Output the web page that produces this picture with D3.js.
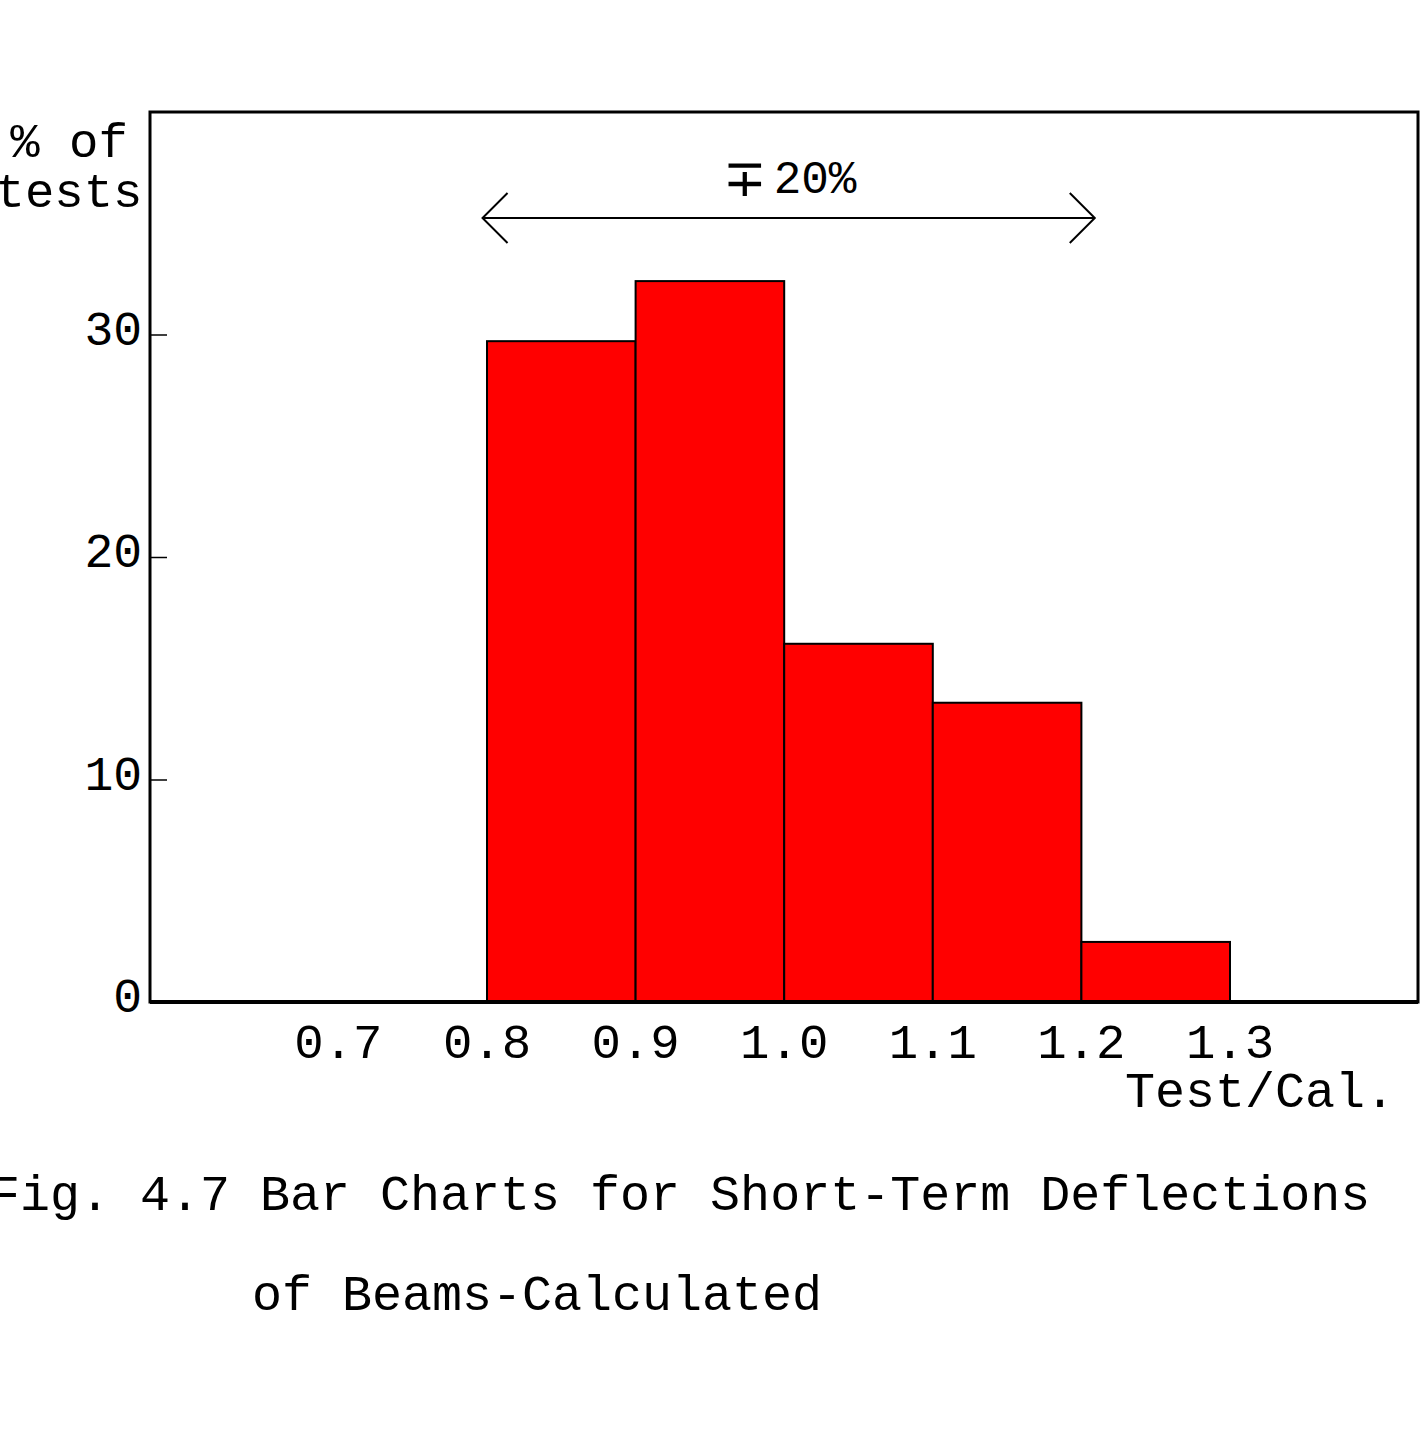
<!DOCTYPE html>
<html lang="en">

<head>
  <meta charset="UTF-8">
  <title>Fig. 4.7 Bar Charts for Short-Term Deflections</title>
  <script src="https://d3js.org/d3.v7.min.js"></script>
  <style>
    body {
      margin: 0;
      background: #fff;
    }

    text {
      font-family: "Liberation Mono", "Courier New", monospace;
      fill: #000;
    }

    .bar {
      fill: rgb(255, 0, 0);
      stroke: #000;
      stroke-width: 2;
    }

    .frame {
      fill: none;
      stroke: #000;
      stroke-width: 3;
    }
  </style>
</head>

<body>
  <svg width="1422" height="1450"></svg>

  <script>
    // bins of Test/Cal. ratio and % of tests in each
    const binStarts = [0.8, 0.9, 1.0, 1.1, 1.2];
    const binWidth = 0.1;
    const percents = [29.7, 32.4, 16.1, 13.45, 2.7];
    const xTicks = [0.7, 0.8, 0.9, 1.0, 1.1, 1.2, 1.3];
    const yTicks = [0, 10, 20, 30];
    const bandRange = [0.797, 1.209];   // the +/-20% arrow
    const bandLabel = '20%';
    const captionLines = ['Fig. 4.7 Bar Charts for Short-Term Deflections', 'of Beams-Calculated'];

    const frame = { left: 150, right: 1418, top: 112, bottom: 1002 };

    const svg = d3.select('svg');

    const x = d3.scaleLinear()
      .domain([0.8, 1.3])
      .range([487, 1230]);

    const y = d3.scaleLinear()
      .domain([0, 40])
      .range([frame.bottom, frame.top]);

    const data = binStarts.map((b, i) => ({ x0: b, x1: b + binWidth, v: percents[i] }));

    //bars
    svg.selectAll('.bar')
      .data(data)
      .enter().append('rect')
      .attr('class', 'bar')
      .attr('x', d => x(d.x0))
      .attr('y', d => y(d.v))
      .attr('width', d => x(d.x1) - x(d.x0))
      .attr('height', d => y(0) - y(d.v));

    //frame
    svg.append('rect')
      .attr('class', 'frame')
      .attr('x', frame.left)
      .attr('y', frame.top)
      .attr('width', frame.right - frame.left)
      .attr('height', frame.bottom - frame.top);
    svg.append('line')
      .attr('x1', frame.left).attr('x2', frame.right)
      .attr('y1', frame.bottom).attr('y2', frame.bottom)
      .attr('stroke', '#000').attr('stroke-width', 4);

    //y axis: short ticks inside the frame, labels outside
    const yAxis = svg.append('g')
      .attr('transform', `translate(${frame.left},0)`)
      .call(d3.axisRight(y).tickValues(yTicks.filter(t => t > 0)).tickSize(17).tickFormat(''));
    yAxis.select('.domain').remove();
    yAxis.selectAll('.tick line').attr('stroke-width', 1.5);

    svg.selectAll('.ylab')
      .data(yTicks)
      .enter().append('text')
      .attr('class', 'ylab')
      .attr('x', 142)
      .attr('y', d => y(d) + 10)
      .attr('text-anchor', 'end')
      .style('font-size', '48px')
      .text(d => d);

    //x tick labels
    svg.selectAll('.xlab')
      .data(xTicks)
      .enter().append('text')
      .attr('class', 'xlab')
      .attr('x', d => x(d))
      .attr('y', 1058)
      .attr('text-anchor', 'middle')
      .style('font-size', '49px')
      .text(d => d.toFixed(1));

    //axis titles
    svg.append('text')
      .attr('x', 1395)
      .attr('y', 1107)
      .attr('text-anchor', 'end')
      .style('font-size', '50px')
      .text('Test/Cal.');

    svg.append('text')
      .attr('text-anchor', 'middle')
      .style('font-size', '49px')
      .selectAll('tspan')
      .data(['% of', 'tests'])
      .enter().append('tspan')
      .attr('x', 69)
      .attr('y', (d, i) => 157 + i * 50)
      .text(d => d);

    //+/- 20% arrow
    const ay = 218;
    const ax0 = x(bandRange[0]);
    const ax1 = x(bandRange[1]);
    svg.append('line')
      .attr('x1', ax0).attr('x2', ax1)
      .attr('y1', ay).attr('y2', ay)
      .attr('stroke', '#000').attr('stroke-width', 2);
    svg.append('path')
      .attr('d', `M${ax0 + 25},${ay - 25}L${ax0},${ay}L${ax0 + 25},${ay + 25}` +
        `M${ax1 - 25},${ay - 25}L${ax1},${ay}L${ax1 - 25},${ay + 25}`)
      .attr('fill', 'none')
      .attr('stroke', '#000')
      .attr('stroke-width', 2);

    const mid = (ax0 + ax1) / 2;
    svg.append('text')
      .attr('x', mid - 44)
      .attr('y', 196)
      .attr('text-anchor', 'middle')
      .style('font-family', '"DejaVu Sans", sans-serif')
      .style('font-weight', 300)
      .style('font-size', '52px')
      .text('\u2213');
    svg.append('text')
      .attr('x', mid - 15)
      .attr('y', 193)
      .style('font-size', '46px')
      .text(bandLabel);

    //caption
    svg.append('text')
      .attr('x', -10)
      .attr('y', 1210)
      .style('font-size', '50px')
      .text(captionLines[0]);
    svg.append('text')
      .attr('x', 252)
      .attr('y', 1310)
      .style('font-size', '50px')
      .text(captionLines[1]);
  </script>
</body>

</html>
